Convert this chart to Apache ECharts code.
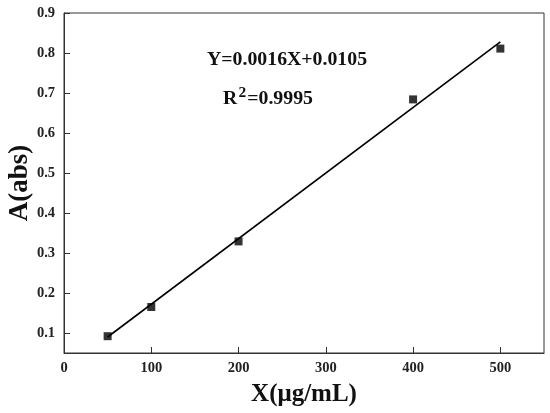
<!DOCTYPE html>
<html>
<head>
<meta charset="utf-8">
<script src="https://cdn.jsdelivr.net/npm/echarts@6/dist/echarts.min.js"></script>
<style>html,body{margin:0;padding:0;background:#fff}#c{width:550px;height:413px}</style>
</head>
<body>
<div id="c"></div>
<script>
var xValues = [50, 100, 200, 400, 500];
var yValues = [0.092, 0.165, 0.329, 0.684, 0.811];
var fitLine = [[50, 0.09], [500, 0.828]];
var xTicks = [0, 100, 200, 300, 400, 500];
var yTicks = [0.1, 0.2, 0.3, 0.4, 0.5, 0.6, 0.7, 0.8, 0.9];
var equationText = 'Y=0.0016X+0.0105';
var r2Value = '=0.9995';

var serif = '"Liberation Serif", "Times New Roman", serif';
var chart = echarts.init(document.getElementById('c'));
var labelStyle = {fontFamily: serif, fontWeight: 'bold', fontSize: 14.5, color: '#222'};
chart.setOption({
  animation: false,
  grid: {left: 64, right: 6, top: 13, bottom: 60, containLabel: false, outerBoundsMode: 'none',
         show: true, borderColor: '#333', borderWidth: 1, backgroundColor: 'transparent'},
  xAxis: {
    type: 'value', min: 0, max: 550,
    name: 'X(\u03bcg/mL)', nameLocation: 'middle', nameGap: 29,
    nameTextStyle: {fontFamily: serif, fontWeight: 'bold', fontSize: 25, color: '#111'},
    axisLine: {show: true, lineStyle: {color: '#333', width: 1}},
    axisTick: {show: true, inside: true, length: 6, customValues: xTicks, lineStyle: {color: '#333'}},
    axisLabel: Object.assign({margin: 8, customValues: xTicks}, labelStyle),
    splitLine: {show: false}
  },
  yAxis: {
    type: 'value', min: 0.05, max: 0.9,
    name: 'A(abs)', nameLocation: 'middle', nameGap: 30, nameMoveOverlap: false,
    nameTextStyle: {fontFamily: serif, fontWeight: 'bold', fontSize: 27, color: '#111'},
    axisLine: {show: true, lineStyle: {color: '#333', width: 1}},
    axisTick: {show: true, inside: true, length: 6, customValues: yTicks, lineStyle: {color: '#333'}},
    axisLabel: Object.assign({margin: 9, customValues: yTicks, formatter: function (v) { return v.toFixed(1); }}, labelStyle),
    splitLine: {show: false}
  },
  series: [
    {
      type: 'line', data: fitLine, showSymbol: false, symbol: 'none',
      lineStyle: {color: '#000', width: 1.6}, z: 2
    },
    {
      type: 'scatter', data: xValues.map(function (x, i) { return [x, yValues[i]]; }),
      symbol: 'rect', symbolSize: 8, itemStyle: {color: '#000'}, z: 3
    }
  ],
  graphic: [
    {
      type: 'text', left: 207, top: 51, scaleX: 1.1,
      style: {text: equationText, font: 'bold 18px ' + serif, fill: '#111'}
    },
    {
      type: 'text', left: 223, top: 86, scaleX: 1.1,
      style: {
        text: '{a|R}{s|2}{a|' + r2Value + '}',
        rich: {
          a: {fontFamily: serif, fontWeight: 'bold', fontSize: 18, fill: '#111', color: '#111'},
          s: {fontFamily: serif, fontWeight: 'bold', fontSize: 14, fill: '#111', color: '#111', padding: [0, 1, 12, 1]}
        }
      }
    }
  ]
});
</script>
</body>
</html>
